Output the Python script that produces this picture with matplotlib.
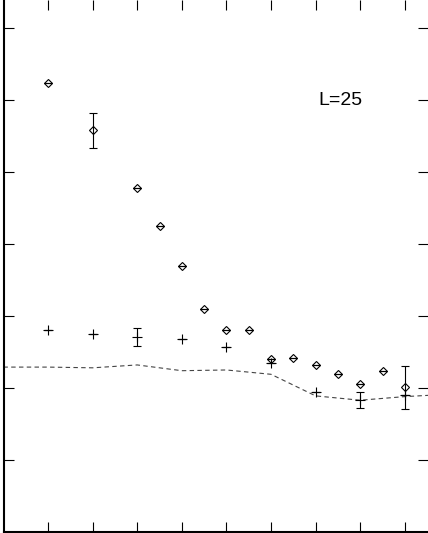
import numpy as np
import matplotlib.pyplot as plt

# diamonds (upper series)
dia_x = [1, 2, 3, 3.5, 4, 4.5, 5, 5.5, 6, 6.5, 7, 7.5, 8, 8.5, 9]
dia_y = [6.24, 5.58, 4.78, 4.25, 3.69, 3.10, 2.81, 2.81, 2.40, 2.42, 2.32, 2.19, 2.06, 2.24, 2.01]
dia_err = [0, 0.24, 0, 0, 0, 0, 0, 0, 0, 0, 0, 0, 0, 0, 0.30]

# crosses (lower series)
crs_x = [1, 2, 3, 4, 5, 6, 7, 8, 9]
crs_y = [2.81, 2.75, 2.71, 2.68, 2.57, 2.35, 1.94, 1.83, 1.90]
crs_err = [0, 0, 0.12, 0, 0, 0, 0, 0.11, 0]

# dashed line
line_x = [0, 1, 2, 3, 4, 5, 6, 7, 8, 9, 9.6]
line_y = [2.29, 2.29, 2.28, 2.32, 2.24, 2.25, 2.19, 1.89, 1.83, 1.88, 1.90]

fig = plt.figure(figsize=(4.28, 5.33), dpi=100)
ax = fig.add_axes([4 / 428, 0.002, 424 / 428, 0.998])

ax.plot(line_x, line_y, '--', lw=0.8, dashes=(4, 3), color='#444444')
ax.errorbar(dia_x, dia_y, yerr=dia_err, fmt='D', mfc='none', mec='k', ms=4.5,
            mew=0.8, ecolor='k', elinewidth=0.8, capsize=3)
ax.errorbar(crs_x, crs_y, yerr=crs_err, fmt='+', color='k', ms=7,
            mew=0.8, elinewidth=0.8, capsize=3)

ax.text(7.55, 6.0, 'L=25', fontsize=14, ha='center', va='center',
        family='Liberation Sans')

ax.set_xlim(0.013, 9.52)
ax.set_ylim(0, 7.39)
ax.set_xticks(range(1, 10))
ax.set_yticks(range(1, 8))
ax.tick_params(direction='in', length=7, top=True, right=True,
               labelbottom=False, labelleft=False)
ax.spines['top'].set_visible(False)
ax.spines['right'].set_visible(False)
for s in ax.spines.values():
    s.set_linewidth(1.5)

plt.savefig('out.png', dpi=100)
